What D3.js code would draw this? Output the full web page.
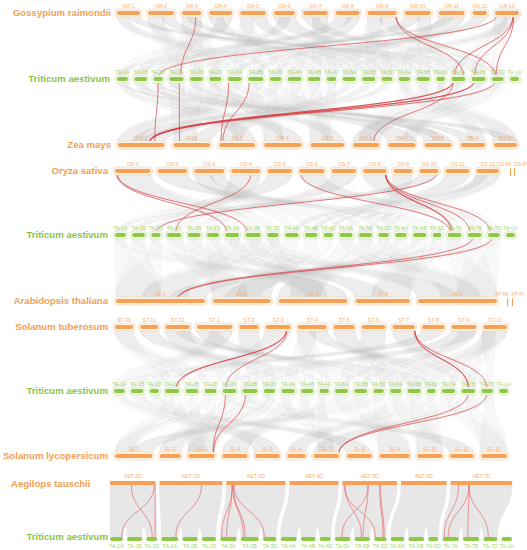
<!DOCTYPE html>
<html>
<head>
<meta charset="utf-8">
<script src="https://cdn.jsdelivr.net/npm/d3@7"></script>
<style>
body { margin: 0; background: #fff; }
svg { display: block; font-family: "Liberation Sans", Arial, sans-serif; }
</style>
</head>
<body>
<div id="chart"></div>
<script>
// chromosome names and lengths (Mb)
let wheatNames = ['TA-1A', 'TA-1B', 'TA-1D', 'TA-2A', 'TA-2B', 'TA-2D', 'TA-3A', 'TA-3B', 'TA-3D', 'TA-4A', 'TA-4B',
	'TA-4D', 'TA-5A', 'TA-5B', 'TA-5D', 'TA-6A', 'TA-6B', 'TA-6D', 'TA-7A', 'TA-7B', 'TA-7D', 'TA-Un']
let wheatLens = [590, 690, 500, 780, 700, 650, 750, 830, 620, 740, 670, 510, 710, 710, 570, 620, 720, 470, 740, 750, 640, 480]

let grNames = ['GR-1', 'GR-2', 'GR-3', 'GR-4', 'GR-5', 'GR-6', 'GR-7', 'GR-8', 'GR-9', 'GR-10', 'GR-11', 'GR-12', 'GR-13']
let grLens = [55.6, 62.8, 46.7, 55.3, 62.3, 51.0, 60.0, 57.3, 70.6, 62.7, 62.5, 35.0, 58.0]

let zmNames = ['ZM-1', 'ZM-2', 'ZM-3', 'ZM-4', 'ZM-5', 'ZM-6', 'ZM-7', 'ZM-8', 'ZM-9', 'ZM-10']
let zmLens = [301, 237, 232, 242, 217, 169, 176, 175, 157, 149]

let osNames = ['OS-1', 'OS-2', 'OS-3', 'OS-4', 'OS-5', 'OS-6', 'OS-7', 'OS-8', 'OS-9', 'OS-10', 'OS-11', 'OS-12', 'OS-Mt', 'OS-Pt']
let osLens = [43.3, 35.9, 36.4, 35.5, 29.9, 31.2, 29.7, 28.4, 23.0, 23.2, 29.0, 27.5, 0.5, 0.13]

let atNames = ['AT-1', 'AT-2', 'AT-3', 'AT-4', 'AT-5', 'AT-Mt', 'AT-Pt']
let atLens = [30.4, 19.7, 23.5, 18.6, 27.0, 0.37, 0.15]

let stNames = ['ST-00', 'ST-11', 'ST-12', 'ST-1', 'ST-2', 'ST-3', 'ST-4', 'ST-5', 'ST-6', 'ST-7', 'ST-8', 'ST-9', 'ST-10']
let stLens = [45, 45, 61, 88, 48, 62, 72, 52, 59, 56, 56, 61, 59]

let slNames = ['SL-1', 'SL-2', 'SL-3', 'SL-4', 'SL-5', 'SL-6', 'SL-7', 'SL-8', 'SL-9', 'SL-10', 'SL-11', 'SL-12']
let slLens = [98, 55, 70, 66, 65, 49, 68, 66, 80, 66, 62, 68]

let aetNames = ['AET-1D', 'AET-2D', 'AET-3D', 'AET-4D', 'AET-5D', 'AET-6D', 'AET-7D']
let aetLens = [473, 651, 615, 509, 566, 473, 638]

// background synteny blocks: [upper chr, from, to, lower chr, from, to]
// a single digit stands for a wheat homoeologous group (A, B and D)
let grBlocks = [
	['GR-1', 0, 0.5, '3', 0, 0.6], ['GR-1', 0.5, 1, '7', 0.3, 1],
	['GR-2', 0, 0.6, '2', 0.2, 0.9], ['GR-2', 0.5, 1, '5', 0, 0.7],
	['GR-3', 0, 1, '2', 0.4, 1], ['GR-3', 0.2, 0.7, '6', 0, 0.8],
	['GR-4', 0, 0.6, '4', 0, 0.7], ['GR-4', 0.4, 1, '1', 0.2, 1],
	['GR-5', 0, 0.5, '3', 0.4, 1], ['GR-5', 0.5, 1, '5', 0.2, 0.9],
	['GR-6', 0, 1, '6', 0, 1], ['GR-6', 0.3, 0.8, '2', 0, 0.5],
	['GR-7', 0, 0.6, '7', 0, 0.6], ['GR-7', 0.4, 1, '4', 0.3, 1],
	['GR-8', 0, 0.7, '1', 0, 0.8], ['GR-8', 0.5, 1, '3', 0.5, 1],
	['GR-9', 0, 0.5, '5', 0.3, 1], ['GR-9', 0.4, 1, '7', 0.4, 1],
	['GR-10', 0, 0.6, '2', 0, 0.6], ['GR-10', 0.5, 1, '6', 0.2, 1],
	['GR-11', 0, 1, '4', 0, 1], ['GR-11', 0.2, 0.6, '1', 0, 0.5],
	['GR-12', 0, 1, '3', 0, 0.6],
	['GR-13', 0, 0.5, '7', 0, 0.7], ['GR-13', 0.4, 1, '5', 0.2, 1]
]
let zmBlocks = [
	['3', 0, 1, 'ZM-1', 0, 0.5], ['7', 0, 0.8, 'ZM-1', 0.5, 1], ['5', 0.3, 1, 'ZM-1', 0.3, 0.7],
	['2', 0, 1, 'ZM-2', 0, 0.6], ['5', 0, 0.6, 'ZM-2', 0.5, 1],
	['4', 0, 1, 'ZM-3', 0, 0.6], ['1', 0.2, 1, 'ZM-3', 0.5, 1],
	['3', 0, 0.6, 'ZM-4', 0, 0.5], ['1', 0, 0.8, 'ZM-4', 0.5, 1],
	['4', 0.2, 1, 'ZM-5', 0, 0.6], ['2', 0, 0.5, 'ZM-5', 0.5, 1],
	['7', 0, 0.7, 'ZM-6', 0, 1], ['6', 0.3, 1, 'ZM-6', 0.2, 0.8],
	['2', 0.3, 1, 'ZM-7', 0, 1], ['7', 0.4, 1, 'ZM-7', 0.5, 1],
	['3', 0.3, 1, 'ZM-8', 0, 0.7], ['1', 0.5, 1, 'ZM-8', 0.4, 1],
	['2', 0, 0.5, 'ZM-9', 0, 0.6], ['6', 0, 0.6, 'ZM-9', 0.4, 1],
	['6', 0.2, 1, 'ZM-10', 0, 1], ['1', 0, 0.5, 'ZM-10', 0.3, 1]
]
let osBlocks = [
	['OS-1', 0, 1, '3', 0, 1], ['OS-2', 0, 1, '6', 0, 1],
	['OS-3', 0, 0.6, '4', 0, 0.7], ['OS-3', 0.5, 1, '5', 0, 0.4],
	['OS-4', 0, 1, '2', 0, 0.6], ['OS-5', 0, 1, '1', 0.3, 1],
	['OS-6', 0, 1, '7', 0, 0.6], ['OS-7', 0, 1, '2', 0.5, 1],
	['OS-8', 0, 1, '7', 0.5, 1], ['OS-9', 0, 1, '5', 0.4, 0.8],
	['OS-10', 0, 1, '1', 0, 0.4], ['OS-11', 0, 1, '4', 0.5, 1],
	['OS-12', 0, 1, '5', 0.7, 1], ['OS-12', 0, 0.5, '4', 0.7, 1]
]
let atBlocks = [
	['1', 0, 1, 'AT-1', 0, 0.5], ['3', 0, 1, 'AT-1', 0.3, 0.8], ['7', 0, 1, 'AT-1', 0.6, 1],
	['2', 0, 1, 'AT-2', 0, 0.6], ['4', 0, 1, 'AT-2', 0.4, 1], ['6', 0, 0.6, 'AT-2', 0.2, 0.8],
	['5', 0, 1, 'AT-3', 0, 0.6], ['1', 0, 0.6, 'AT-3', 0.4, 1], ['3', 0.3, 1, 'AT-3', 0.2, 0.7],
	['2', 0.2, 1, 'AT-4', 0, 0.6], ['6', 0, 1, 'AT-4', 0.3, 1],
	['3', 0, 1, 'AT-5', 0, 0.5], ['5', 0, 1, 'AT-5', 0.3, 0.8], ['7', 0, 1, 'AT-5', 0.5, 1]
]
let stBlocks = [
	['ST-00', 0, 1, '2', 0, 0.6], ['ST-11', 0, 1, '4', 0, 0.7],
	['ST-12', 0, 1, '3', 0, 0.6], ['ST-12', 0.4, 1, '6', 0, 1],
	['ST-1', 0, 0.6, '5', 0, 0.7], ['ST-1', 0.4, 1, '1', 0, 1],
	['ST-2', 0, 1, '3', 0.4, 1], ['ST-3', 0, 1, '2', 0.3, 1],
	['ST-4', 0, 0.6, '4', 0.3, 1], ['ST-4', 0.4, 1, '7', 0, 0.6],
	['ST-5', 0, 1, '6', 0, 1], ['ST-6', 0, 1, '5', 0.3, 1],
	['ST-7', 0, 1, '7', 0.3, 1], ['ST-8', 0, 1, '1', 0, 0.8],
	['ST-9', 0, 1, '3', 0, 0.7], ['ST-9', 0.3, 1, '5', 0.5, 1],
	['ST-10', 0, 1, '6', 0.2, 1], ['ST-10', 0, 0.5, '7', 0.5, 1]
]
let slBlocks = [
	['2', 0, 0.6, 'SL-1', 0, 0.5], ['5', 0, 1, 'SL-1', 0.4, 1],
	['3', 0, 0.6, 'SL-2', 0, 1], ['3', 0.3, 1, 'SL-3', 0, 1], ['2', 0.4, 1, 'SL-3', 0, 0.6],
	['4', 0, 1, 'SL-4', 0, 1], ['1', 0, 1, 'SL-5', 0, 1], ['6', 0, 1, 'SL-6', 0, 1],
	['7', 0, 1, 'SL-7', 0, 1], ['4', 0, 0.5, 'SL-7', 0.2, 0.8], ['1', 0.3, 1, 'SL-8', 0, 1],
	['5', 0, 1, 'SL-9', 0, 1], ['6', 0.2, 1, 'SL-10', 0, 1], ['3', 0, 0.6, 'SL-11', 0, 1],
	['7', 0.3, 1, 'SL-12', 0, 1]
]
let aetBlocks = [
	['AET-1D', 0, 1, '1', 0, 1], ['AET-2D', 0, 1, '2', 0, 1], ['AET-3D', 0, 1, '3', 0, 1],
	['AET-4D', 0, 1, '4', 0, 1], ['AET-5D', 0, 1, '5', 0, 1], ['AET-6D', 0, 1, '6', 0, 1],
	['AET-7D', 0, 1, '7', 0, 1]
]

// highlighted gene pairs: [upper chr, position, lower chr, position]
let grLinks = [
	['GR-3', 0.72, 'TA-2A', 0.8], ['GR-13', 0.08, 'TA-1D', 0.5],
	['GR-9', 0.97, 'TA-7A', 0.9], ['GR-9', 0.96, 'TA-7D', 0.3],
	['GR-13', 0.75, 'TA-7A', 0.2], ['GR-13', 0.76, 'TA-7B', 0.2], ['GR-13', 0.78, 'TA-7D', 0.35]
]
let zmLinks = [
	['TA-1D', 0.5, 'ZM-1', 0.79], ['TA-2A', 0.7, 'ZM-2', 0.16],
	['TA-3A', 0.05, 'ZM-3', 0.05], ['TA-3B', 0.07, 'ZM-3', 0.1],
	['TA-7A', 0.15, 'ZM-1', 0.66], ['TA-7A', 0.18, 'ZM-1', 0.665],
	['TA-7B', 0.2, 'ZM-1', 0.66], ['TA-7B', 0.23, 'ZM-1', 0.67],
	['TA-7D', 0.3, 'ZM-1', 0.67], ['TA-7A', 0.15, 'ZM-6', 0.78]
]
let osLinks = [
	['OS-1', 0.05, 'TA-3A', 0.1], ['OS-1', 0.06, 'TA-3B', 0.1],
	['OS-4', 0.68, 'TA-2A', 0.6], ['OS-10', 0.9, 'TA-1D', 0.5],
	['OS-6', 0.08, 'TA-7A', 0.2], ['OS-8', 0.95, 'TA-7A', 0.25], ['OS-8', 0.95, 'TA-7A', 0.35],
	['OS-8', 0.96, 'TA-7B', 0.15], ['OS-8', 0.96, 'TA-7D', 0.2]
]
let atLinks = [
	['TA-7B', 0.4, 'AT-1', 0.69], ['TA-7D', 0.4, 'AT-1', 0.7]
]
let stLinks = [
	['ST-3', 0.85, 'TA-2A', 0.75], ['ST-3', 0.83, 'TA-2A', 0.8], ['ST-3', 0.86, 'TA-3A', 0.2],
	['ST-7', 0.97, 'TA-7B', 0.5], ['ST-7', 0.97, 'TA-7B', 0.55], ['ST-7', 0.98, 'TA-7D', 0.5]
]
let slLinks = [
	['TA-3A', 0.2, 'SL-3', 0.93], ['TA-3B', 0.2, 'SL-3', 0.94],
	['TA-7B', 0.5, 'SL-7', 0.98], ['TA-7D', 0.5, 'SL-7', 0.97]
]
let aetLinks = [
	['AET-1D', 0.47, 'TA-1D', 0.55], ['AET-1D', 0.97, 'TA-1A', 0.9], ['AET-1D', 0.99, 'TA-1D', 0.8],
	['AET-2D', 0.67, 'TA-2A', 0.85],
	['AET-3D', 0.1, 'TA-3A', 0.1], ['AET-3D', 0.1, 'TA-3A', 0.4], ['AET-3D', 0.11, 'TA-3B', 0.15],
	['AET-3D', 0.12, 'TA-3B', 0.25], ['AET-3D', 0.13, 'TA-3D', 0.1],
	['AET-5D', 0.03, 'TA-5D', 0.1], ['AET-5D', 0.05, 'TA-5B', 0.45], ['AET-5D', 0.47, 'TA-5A', 0.45],
	['AET-5D', 0.47, 'TA-5B', 0.55], ['AET-5D', 0.68, 'TA-5D', 0.7], ['AET-5D', 0.7, 'TA-5D', 0.8],
	['AET-7D', 0.13, 'TA-7A', 0.1], ['AET-7D', 0.3, 'TA-7A', 0.35], ['AET-7D', 0.3, 'TA-7B', 0.3],
	['AET-7D', 0.3, 'TA-7D', 0.35]
]

let width = 527
let height = 550

let orange = { bar: '#f7a157', frame: '#fdf2e6', frameStroke: '#f4d6b4', label: '#f3b27a', title: '#f5a04f' }
let green = { bar: '#8fc845', frame: '#f0f7e5', frameStroke: '#d5e9b9', label: '#a6d46e', title: '#8cc63f' }

let svg = d3.select('#chart').append('svg').attr('width', width).attr('height', height)

let gBack = svg.append('g')
let gLinks = svg.append('g')
let gChr = svg.append('g')

let isTiny = n => /-(Mt|Pt)$/.test(n)

// organelle genomes get a fixed 1px slot and their own spacing
let layoutRow = (r) => {
	let gapOf = i => (i === 0 ? 0 : isTiny(r.names[i]) ? (isTiny(r.names[i - 1]) ? r.tinyGap2 : r.tinyGap1) : r.gap)
	let gapSum = d3.sum(r.names, (n, i) => gapOf(i))
	let tinyW = 1
	let nTiny = r.names.filter(isTiny).length
	let k = (r.x1 - r.x0 - gapSum - nTiny * tinyW) / d3.sum(r.lens.filter((l, i) => !isTiny(r.names[i])))
	let x = r.x0
	let map = {}
	r.names.forEach((n, i) => {
		x += gapOf(i)
		let w = isTiny(n) ? tinyW : r.lens[i] * k
		map[n] = { name: n, tiny: isTiny(n), x0: x, x1: x + w, scale: d3.scaleLinear().domain([0, 1]).range([x, x + w]) }
		x += w
	})
	return map
}

let rows = {
	gr: { names: grNames, lens: grLens, y: 13, x0: 117, x1: 519, gap: 8, col: orange, framed: true },
	ta1: { names: wheatNames, lens: wheatLens, y: 79, x0: 117, x1: 519, gap: 6.5, col: green, framed: true },
	zm: { names: zmNames, lens: zmLens, y: 145, x0: 118, x1: 517, gap: 9, col: orange, framed: true },
	os: { names: osNames, lens: osLens, y: 171, x0: 115, x1: 515, gap: 7, tinyGap1: 11, tinyGap2: 3, col: orange, framed: true },
	ta2: { names: wheatNames, lens: wheatLens, y: 235, x0: 115, x1: 515, gap: 6.4, col: green, framed: true },
	at: { names: atNames, lens: atLens, y: 301, x0: 116, x1: 513, gap: 8, tinyGap1: 10, tinyGap2: 4, col: orange, framed: true },
	st: { names: stNames, lens: stLens, y: 327, x0: 115, x1: 507, gap: 7, col: orange, framed: true },
	ta3: { names: wheatNames, lens: wheatLens, y: 391, x0: 114, x1: 508, gap: 6.3, col: green, framed: true },
	sl: { names: slNames, lens: slLens, y: 456, x0: 115, x1: 507, gap: 7.5, col: orange, framed: true },
	aet: { names: aetNames, lens: aetLens, y: 483, x0: 110, x1: 512, gap: 4, col: orange, framed: false },
	ta4: { names: wheatNames, lens: wheatLens, y: 539, x0: 110, x1: 512, gap: 4, col: green, framed: false, below: true }
}
Object.values(rows).forEach(r => { r.map = layoutRow(r) })

let expand = name => (/^\d$/.test(name) ? ['A', 'B', 'D'].map(s => `TA-${name}${s}`) : [name])

let ribbon = (a0, a1, y0, b0, b1, y1) => {
	let m = (y0 + y1) / 2
	return `M${a0},${y0}C${a0},${m} ${b0},${m} ${b0},${y1}L${b1},${y1}C${b1},${m} ${a1},${m} ${a1},${y0}Z`
}
let curve = (a, y0, b, y1) => {
	let m = (y0 + y1) / 2
	return `M${a},${y0}C${a},${m} ${b},${m} ${b},${y1}`
}

let gaps = [
	{ up: 'gr', low: 'ta1', blocks: grBlocks, links: grLinks },
	{ up: 'ta1', low: 'zm', blocks: zmBlocks, links: zmLinks },
	{ up: 'os', low: 'ta2', blocks: osBlocks, links: osLinks },
	{ up: 'ta2', low: 'at', blocks: atBlocks, links: atLinks },
	{ up: 'st', low: 'ta3', blocks: stBlocks, links: stLinks },
	{ up: 'ta3', low: 'sl', blocks: slBlocks, links: slLinks },
	{ up: 'aet', low: 'ta4', blocks: aetBlocks, links: aetLinks, solid: true }
]

gaps.forEach(gp => {
	let up = rows[gp.up]
	let low = rows[gp.low]
	let y0 = up.y + 2
	let y1 = low.y - 2
	gp.blocks.forEach(b => {
		expand(b[0]).forEach(u => {
			expand(b[3]).forEach(l => {
				let cu = up.map[u]
				let cl = low.map[l]
				gBack.append('path')
					.attr('d', ribbon(cu.scale(b[1]), cu.scale(b[2]), y0, cl.scale(b[4]), cl.scale(b[5]), y1))
					.attr('fill', gp.solid ? '#e7e7e7' : '#a8a8a8')
					.attr('fill-opacity', gp.solid ? 1 : 0.075)
					.attr('stroke', gp.solid ? '#e7e7e7' : '#bcbcbc')
					.attr('stroke-opacity', gp.solid ? 1 : 0.25)
					.attr('stroke-width', 0.4)
			})
		})
	})
	gp.links.forEach(k => {
		gLinks.append('path')
			.attr('d', curve(up.map[k[0]].scale(k[1]), y0, low.map[k[2]].scale(k[3]), y1))
			.attr('fill', 'none')
			.attr('stroke', gp.solid ? '#e8686b' : '#dc3a3f')
			.attr('stroke-opacity', 0.9)
			.attr('stroke-width', 0.75)
	})
})

// chromosomes
Object.values(rows).forEach(r => {
	Object.values(r.map).forEach(c => {
		let w = c.x1 - c.x0
		let anchor = 'middle'
		let lx = (c.x0 + c.x1) / 2
		if (c.tiny) {
			gChr.append('rect')
				.attr('x', c.x0).attr('y', r.y - 3)
				.attr('width', w).attr('height', 8)
				.attr('fill', r.col.bar)
			// keep the two organelle labels apart
			anchor = /-Mt$/.test(c.name) ? 'end' : 'start'
			lx = anchor === 'end' ? c.x0 + 1.5 : c.x0 - 0.5
		} else if (r.framed) {
			gChr.append('rect')
				.attr('x', c.x0 - 2).attr('y', r.y - 4)
				.attr('width', w + 4).attr('height', 8)
				.attr('rx', 3.5)
				.attr('fill', r.col.frame)
				.attr('stroke', r.col.frameStroke)
				.attr('stroke-width', 0.6)
			gChr.append('rect')
				.attr('x', c.x0).attr('y', r.y - 2)
				.attr('width', w).attr('height', 4)
				.attr('rx', 2)
				.attr('fill', r.col.bar)
		} else {
			gChr.append('rect')
				.attr('x', c.x0).attr('y', r.y - 2)
				.attr('width', w).attr('height', 4)
				.attr('rx', r.below ? 2 : 0.5)
				.attr('fill', r.col.bar)
		}
		gChr.append('text')
			.attr('x', lx)
			.attr('y', r.below ? r.y + 8.5 : r.y - 5)
			.attr('text-anchor', anchor)
			.attr('font-size', 5.2)
			.attr('fill', r.col.label)
			.text(c.name)
	})
})

// species names
let species = [
	['Gossypium raimondii', 111, 13, orange, 'end'],
	['Triticum aestivum', 110, 79, green, 'end'],
	['Zea mays', 111, 145, orange, 'end'],
	['Oryza sativa', 108, 171, orange, 'end'],
	['Triticum aestivum', 108, 235, green, 'end'],
	['Arabidopsis thaliana', 108, 301, orange, 'end'],
	['Solanum tuberosum', 108, 327, orange, 'end'],
	['Triticum aestivum', 108, 391, green, 'end'],
	['Solanum lycopersicum', 108, 456, orange, 'end'],
	['Aegilops tauschii', 11, 484, orange, 'start'],
	['Triticum aestivum', 108, 537, green, 'end']
]
species.forEach(s => {
	svg.append('text')
		.attr('x', s[1])
		.attr('y', s[2] + 3.4)
		.attr('text-anchor', s[4])
		.attr('font-size', 9.6)
		.attr('font-weight', 'bold')
		.attr('fill', s[3].title)
		.text(s[0])
})
</script>
</body>
</html>
